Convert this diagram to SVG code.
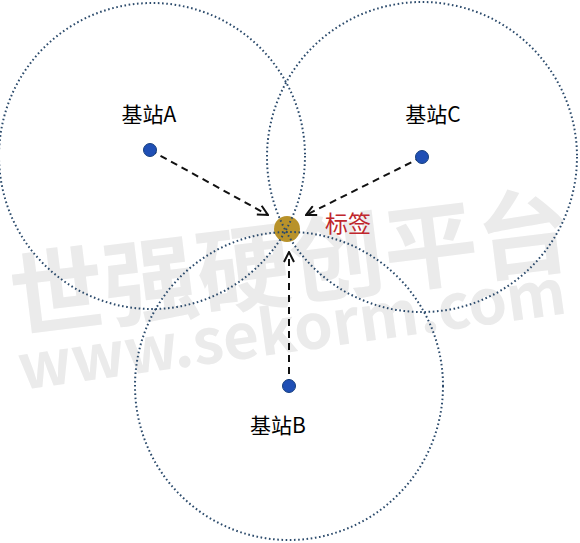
<svg xmlns="http://www.w3.org/2000/svg" width="580" height="543" viewBox="0 0 580 543">
<defs>
<style>
.range{fill:none;stroke:#2b4a6b;stroke-width:2;stroke-dasharray:1.6 2.6}
.base{fill:#1f4fb5;stroke:#17407f;stroke-width:1}
.lbl{font-family:"Noto Sans CJK SC","DejaVu Sans Mono",monospace;font-size:21px;fill:#000}
.link{stroke:#111;stroke-width:2;stroke-dasharray:7 5;fill:none}
.wm{font-family:"Noto Sans CJK SC","Noto Sans",sans-serif;font-weight:bold;fill:#ebebeb}
</style>
<marker id="arr" viewBox="0 0 12 12" refX="11" refY="6" markerWidth="12" markerHeight="12" markerUnits="userSpaceOnUse" orient="auto">
<path d="M1,1 L11,6 L1,11" fill="none" stroke="#111" stroke-width="2"/>
</marker>
</defs>
<rect width="580" height="543" fill="#fff"/>
<g id="watermark">
<text class="wm" x="290" y="298" font-size="94" text-anchor="middle" transform="rotate(-7 290 260)">世强硬创平台</text>
<text class="wm" x="292" y="352" font-size="62" text-anchor="middle" transform="rotate(-8 290 330)">www.sekorm.com</text>
</g>
<g id="tag">
<circle cx="287" cy="229" r="13" fill="#b8922a"/>
<text x="325" y="232" font-family="'Noto Sans CJK SC',sans-serif" font-size="23" fill="#c0272d">标签</text>
</g>
<g id="ranges">
<circle class="range" cx="152" cy="156" r="153"/>
<circle class="range" cx="422" cy="157" r="155"/>
<circle class="range" cx="289" cy="386" r="154"/>
</g>
<g id="connectors">
<line class="link" x1="150" y1="150" x2="268" y2="215" marker-end="url(#arr)"/>
<line class="link" x1="422" y1="157" x2="306" y2="215" marker-end="url(#arr)"/>
<line class="link" x1="289" y1="386" x2="289" y2="252" marker-end="url(#arr)"/>
</g>
<g id="baseA">
<circle class="base" cx="150" cy="150" r="6.5"/>
<text class="lbl" x="149" y="122" text-anchor="middle">基站A</text>
</g>
<g id="baseC">
<circle class="base" cx="422" cy="157" r="6.5"/>
<text class="lbl" x="433" y="122" text-anchor="middle">基站C</text>
</g>
<g id="baseB">
<circle class="base" cx="289" cy="386" r="6.5"/>
<text class="lbl" x="278" y="433" text-anchor="middle">基站B</text>
</g>
</svg>
